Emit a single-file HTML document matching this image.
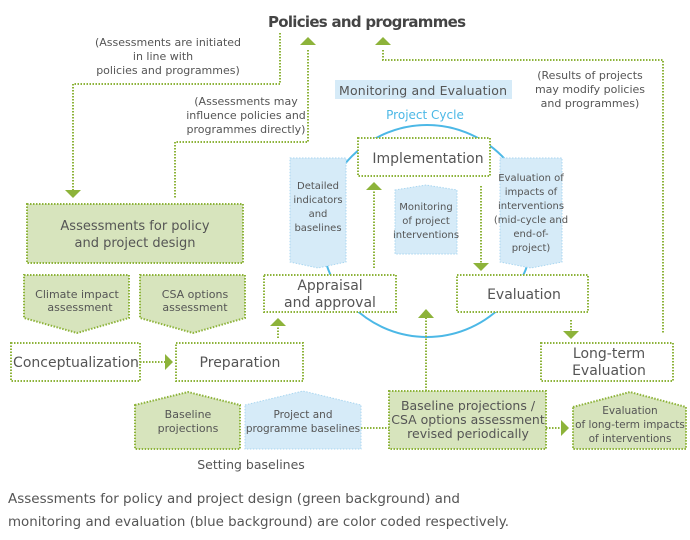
<!DOCTYPE html>
<html><head><meta charset="utf-8"><style>
html,body{margin:0;padding:0;background:#fff;width:690px;height:540px;overflow:hidden}
svg{display:block}
text{font-family:"DejaVu Sans","Liberation Sans",sans-serif;fill:#555}
</style></head><body>
<svg width="690" height="540" viewBox="0 0 690 540" xmlns="http://www.w3.org/2000/svg">
<defs>
<style>
.g{fill:none;stroke:#8db33a;stroke-width:2;stroke-dasharray:1.5 1.5}
.gf{fill:#d7e4bd;stroke:#8db33a;stroke-width:2;stroke-dasharray:1.5 1.5}
.wb{fill:#fff;stroke:#8db33a;stroke-width:2;stroke-dasharray:1.5 1.5}
.bf{fill:#d6ebf8;stroke:#a9d6f0;stroke-width:1;stroke-dasharray:1.5 1.5}
.ar{fill:#8db33a}
</style>
</defs>
<text x="367" y="27" font-size="15" font-weight="bold" text-anchor="middle" style="fill:#444" textLength="198">Policies and programmes</text>

<polyline class="g" points="280,33 280,84 73,84 73,190"/>
<polygon class="ar" points="65,190 81,190 73,198"/>
<polyline class="g" points="308,50 308,142 175,142 175,198"/>
<polygon class="ar" points="300,45 316,45 308,37"/>
<polyline class="g" points="383,50 383,60 663,60 663,333"/>
<polygon class="ar" points="375,45 391,45 383,37"/>

<text font-size="11" text-anchor="middle"><tspan x="168" y="46">(Assessments are initiated</tspan><tspan x="163" y="60">in line with</tspan><tspan x="168" y="74">policies and programmes)</tspan></text>
<text font-size="11" text-anchor="middle"><tspan x="246" y="105">(Assessments may</tspan><tspan x="246" y="119">influence policies and</tspan><tspan x="246" y="133">programmes directly)</tspan></text>
<text font-size="11" text-anchor="middle"><tspan x="590" y="79">(Results of projects</tspan><tspan x="590" y="93">may modify policies</tspan><tspan x="590" y="107">and programmes)</tspan></text>

<rect x="335" y="80" width="177" height="19" fill="#d6ebf8"/>
<text x="423" y="95" font-size="12.5" text-anchor="middle" textLength="168">Monitoring and Evaluation</text>
<text x="425" y="119" font-size="12" text-anchor="middle" style="fill:#4cb8e6">Project Cycle</text>

<circle cx="427" cy="231" r="106" fill="none" stroke="#4cb8e6" stroke-width="2"/>

<polygon class="bf" points="290,158 346,158 346,262 318,268 290,262"/>
<text font-size="10" text-anchor="middle"><tspan x="318" y="189">Detailed</tspan><tspan x="318" y="203">indicators</tspan><tspan x="318" y="217">and</tspan><tspan x="318" y="231">baselines</tspan></text>
<polygon class="bf" points="395,190 426,185 457,190 457,254 395,254"/>
<text font-size="10" text-anchor="middle"><tspan x="426" y="210">Monitoring</tspan><tspan x="426" y="224">of project</tspan><tspan x="426" y="238">interventions</tspan></text>
<polygon class="bf" points="500,158 562,158 562,262 531,268 500,262"/>
<text font-size="10" text-anchor="middle"><tspan x="531" y="181">Evaluation of</tspan><tspan x="531" y="195">impacts of</tspan><tspan x="531" y="209">interventions</tspan><tspan x="531" y="223">(mid-cycle and</tspan><tspan x="531" y="237">end-of-</tspan><tspan x="531" y="251">project)</tspan></text>

<rect class="wb" x="358" y="138" width="132" height="38"/>
<text x="428" y="163" font-size="14" text-anchor="middle">Implementation</text>
<line class="g" x1="374" y1="268" x2="374" y2="188"/>
<polygon class="ar" points="366,190 382,190 374,182"/>
<line class="g" x1="481" y1="186" x2="481" y2="264"/>
<polygon class="ar" points="473,263 489,263 481,271"/>

<rect class="wb" x="264" y="275" width="132" height="37"/>
<text font-size="14" text-anchor="middle"><tspan x="330" y="290">Appraisal</tspan><tspan x="330" y="307">and approval</tspan></text>
<rect class="wb" x="457" y="275" width="131" height="37"/>
<text x="524" y="299" font-size="14" text-anchor="middle">Evaluation</text>
<line class="g" x1="571" y1="320" x2="571" y2="333"/>
<polygon class="ar" points="563,331 579,331 571,339"/>
<rect class="wb" x="541" y="343" width="132" height="38"/>
<text font-size="14" text-anchor="middle"><tspan x="609" y="358">Long-term</tspan><tspan x="609" y="375">Evaluation</tspan></text>

<rect class="gf" x="27" y="204" width="216" height="59"/>
<text font-size="13" text-anchor="middle"><tspan x="135" y="230">Assessments for policy</tspan><tspan x="135" y="247">and project design</tspan></text>
<polygon class="gf" points="24,275 129,275 129,318 77,333 24,318"/>
<text font-size="11" text-anchor="middle"><tspan x="77" y="298">Climate impact</tspan><tspan x="80" y="311">assessment</tspan></text>
<polygon class="gf" points="140,275 245,275 245,318 193,333 140,318"/>
<text font-size="11" text-anchor="middle"><tspan x="195" y="298">CSA options</tspan><tspan x="195" y="311">assessment</tspan></text>

<rect class="wb" x="11" y="343" width="129" height="38"/>
<text x="76" y="367" font-size="14" text-anchor="middle">Conceptualization</text>
<line class="g" x1="140" y1="362" x2="166" y2="362"/>
<polygon class="ar" points="165,354 165,370 173,362"/>
<rect class="wb" x="176" y="343" width="127" height="38"/>
<text x="240" y="367" font-size="14" text-anchor="middle">Preparation</text>
<line class="g" x1="278" y1="338" x2="278" y2="324"/>
<polygon class="ar" points="270,326 286,326 278,318"/>

<polygon class="gf" points="135,405 188,392 240,405 240,449 135,449"/>
<text font-size="11" text-anchor="middle"><tspan x="188" y="418">Baseline</tspan><tspan x="188" y="432">projections</tspan></text>
<polygon class="bf" points="245,405 303,391 361,405 361,449 245,449"/>
<text font-size="10.5" text-anchor="middle"><tspan x="303" y="418">Project and</tspan><tspan x="303" y="432">programme baselines</tspan></text>
<line class="g" x1="361" y1="428" x2="389" y2="428"/>

<rect class="gf" x="389" y="391" width="157" height="58"/>
<text font-size="12.5" text-anchor="middle"><tspan x="468" y="410">Baseline projections /</tspan><tspan x="468" y="424">CSA options assessment</tspan><tspan x="468" y="438">revised periodically</tspan></text>
<line class="g" x1="426" y1="391" x2="426" y2="316"/>
<polygon class="ar" points="418,318 434,318 426,309"/>
<line class="g" x1="546" y1="428" x2="562" y2="428"/>
<polygon class="ar" points="561,420 561,436 569,428"/>
<polygon class="gf" points="573,407 630,392 686,407 686,449 573,449"/>
<text font-size="10.5" text-anchor="middle"><tspan x="630" y="414">Evaluation</tspan><tspan x="630" y="428">of long-term impacts</tspan><tspan x="630" y="442">of interventions</tspan></text>

<text x="251" y="469" font-size="12.5" text-anchor="middle">Setting baselines</text>
<text x="8" y="503" font-size="13" textLength="452" lengthAdjust="spacingAndGlyphs">Assessments for policy and project design (green background) and</text>
<text x="8" y="526" font-size="13" textLength="501" lengthAdjust="spacingAndGlyphs">monitoring and evaluation (blue background) are color coded respectively.</text>
</svg>
</body></html>
